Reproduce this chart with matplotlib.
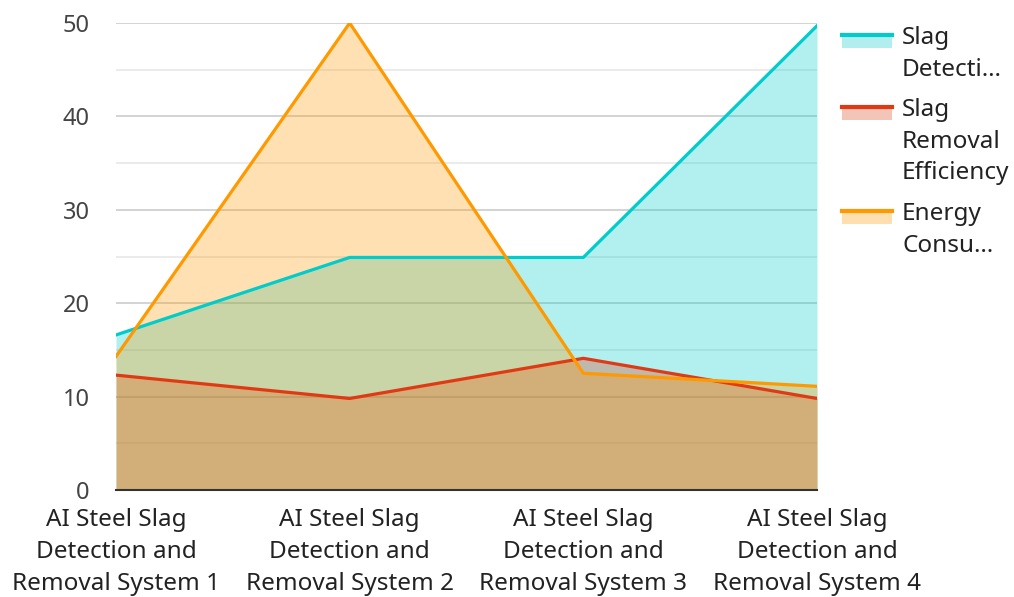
import matplotlib.pyplot as plt
from matplotlib.patches import Rectangle
from matplotlib.lines import Line2D

plt.rcParams['font.family'] = ['Noto Sans', 'DejaVu Sans']

categories = ['AI Steel Slag\nDetection and\nRemoval System 1',
              'AI Steel Slag\nDetection and\nRemoval System 2',
              'AI Steel Slag\nDetection and\nRemoval System 3',
              'AI Steel Slag\nDetection and\nRemoval System 4']
detection = [16.6, 24.9, 24.9, 49.7]
removal = [12.3, 9.8, 14.1, 9.8]
energy = [14.3, 50.0, 12.5, 11.1]

series = [
    ('Slag\nDetecti…', detection, '#00cccc', '#b2eeee'),
    ('Slag\nRemoval\nEfficiency', removal, '#e03a14', '#f3c4b8'),
    ('Energy\nConsu…', energy, '#ff9900', '#ffdeb0'),
]

fig = plt.figure(figsize=(10.14, 5.97), dpi=100)
ax = fig.add_axes([116 / 1014, 107 / 597, 701 / 1014, 467 / 597])

x = list(range(len(categories)))
for name, vals, line_c, fill_c in series:
    ax.fill_between(x, 0, vals, color=line_c, alpha=0.3, linewidth=0, zorder=2)
for name, vals, line_c, fill_c in series:
    ax.plot(x, vals, color=line_c, linewidth=2.3, zorder=3)

ax.set_xlim(0, 3)
ax.set_ylim(0, 50)
ax.set_yticks(range(0, 51, 10))
ax.set_yticks(range(5, 50, 10), minor=True)
ax.set_xticks(x)
ax.set_xticklabels(categories, linespacing=1.43)
ax.grid(axis='y', which='major', color='#cccccc', linewidth=1.2, zorder=1)
ax.grid(axis='y', which='minor', color='#e8e8e8', linewidth=1.2, zorder=1)
ax.tick_params(axis='y', which='both', length=0, pad=19, labelsize=17, labelcolor='#444444')
ax.tick_params(axis='x', length=0, pad=13, labelsize=17.5, labelcolor='#222222')
for s in ['left', 'right', 'top']:
    ax.spines[s].set_visible(False)
ax.spines['bottom'].set_color('#333333')
ax.spines['bottom'].set_linewidth(1.5)
ax.spines['bottom'].set_zorder(4)

# legend, drawn by hand so the swatch lines up with the first text line
line_ys = [35, 107, 211]
text_tops = [26, 98, 202]
for (name, vals, line_c, fill_c), ly, tt in zip(series, line_ys, text_tops):
    fig.add_artist(Rectangle((842 / 1014, 1 - 48 / 597 - (ly - 35) / 597), 50 / 1014, 12 / 597,
                             transform=fig.transFigure, color=fill_c, linewidth=0))
    fig.add_artist(Line2D([842 / 1014, 892 / 1014], [1 - ly / 597] * 2,
                          transform=fig.transFigure, color=line_c, linewidth=3))
    fig.text(902 / 1014, 1 - tt / 597, name, ha='left', va='top', fontsize=17.5,
             color='#222222', linespacing=1.43)

fig.savefig('out.png', dpi=100)
